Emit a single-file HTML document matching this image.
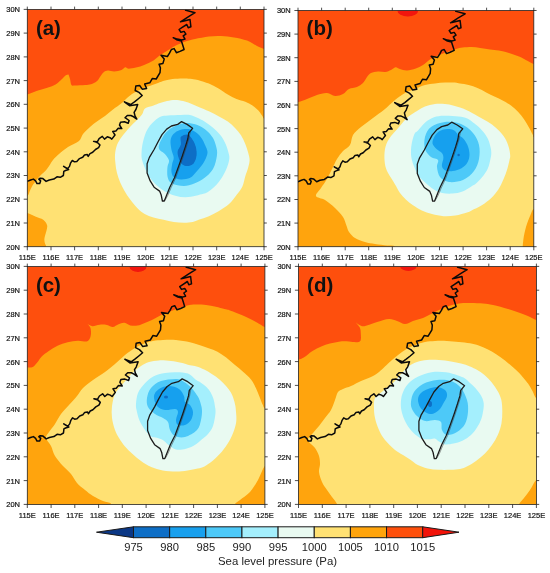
<!DOCTYPE html>
<html lang="en"><head><meta charset="utf-8"><title>Sea level pressure</title>
<style>html,body{margin:0;padding:0;background:#fff}svg{display:block}</style></head>
<body>
<svg width="550" height="573" viewBox="0 0 550 573">
<defs>
<clipPath id="cpa"><rect x="27.3" y="9.4" width="236.7" height="237.3"/></clipPath>
<clipPath id="cpb"><rect x="298.0" y="10.5" width="235.8" height="236.2"/></clipPath>
<clipPath id="cpc"><rect x="27.3" y="266.4" width="237.6" height="238.0"/></clipPath>
<clipPath id="cpd"><rect x="298.5" y="266.4" width="237.9" height="238.0"/></clipPath>
<filter id="bl" x="-5%" y="-5%" width="110%" height="110%"><feGaussianBlur stdDeviation="0.45"/></filter>
</defs>
<rect width="550" height="573" fill="#fff"/>
<g clip-path="url(#cpa)">
<g filter="url(#bl)">
<rect x="24.3" y="6.4" width="242.7" height="243.3" fill="#fe500c"/>
<path d="M21.3 94.4C22.3 94.4 24.6 95.0 27.3 94.4C30.0 93.8 33.9 91.8 37.2 90.7C40.6 89.6 44.3 88.9 47.4 87.8C50.5 86.7 53.6 85.7 56.0 84.2C58.4 82.7 60.4 80.5 62.0 79.0C63.6 77.5 64.4 76.2 65.5 75.5C66.6 74.8 68.5 74.5 68.5 74.5C68.5 74.5 69.5 77.2 70.0 79.0C70.5 80.8 70.6 83.9 71.4 85.0C72.2 86.1 72.7 85.6 75.0 85.6C77.3 85.6 82.5 85.2 85.2 85.0C87.9 84.8 89.1 84.8 91.0 84.2C92.9 83.6 95.2 82.6 96.8 81.3C98.4 80.0 99.3 77.8 100.5 76.2C101.7 74.7 102.8 72.9 104.0 72.0C105.2 71.1 106.3 70.7 108.0 70.6C109.7 70.5 112.0 71.6 114.3 71.5C116.5 71.4 119.7 70.7 121.5 70.0C123.3 69.3 124.0 67.5 125.2 67.3C126.4 67.1 127.0 68.8 128.8 68.8C130.6 68.8 133.3 68.3 136.0 67.6C138.7 66.9 141.9 65.9 144.8 64.7C147.7 63.5 150.8 62.0 153.5 60.4C156.2 58.8 158.4 56.5 160.8 54.8C163.2 53.1 165.3 51.8 168.0 50.2C170.7 48.6 173.6 46.5 176.8 45.0C180.0 43.5 184.0 42.0 187.0 41.0C190.0 40.0 191.3 39.8 195.0 39.0C198.7 38.2 204.7 37.0 209.0 36.5C213.3 36.0 216.8 35.8 221.0 36.0C225.2 36.2 229.7 36.7 234.0 37.5C238.3 38.3 243.2 39.2 247.0 40.6C250.8 42.0 254.1 44.6 257.0 46.0C259.9 47.4 262.2 48.5 264.5 49.0C266.8 49.5 269.5 49.0 270.5 49.0L270.0 252.7 L21.3 252.7 Z" fill="#ffa40c"/>
<path d="M27.3 196.0C28.9 195.2 29.0 192.7 29.8 191.0C30.6 189.3 31.3 187.5 32.2 186.0C33.1 184.5 33.7 183.7 35.0 182.0C36.3 180.3 38.0 178.2 40.0 176.0C42.0 173.8 44.8 171.7 47.0 169.0C49.2 166.3 51.0 162.5 53.0 160.0C55.0 157.5 56.5 156.2 59.0 154.0C61.5 151.8 64.7 149.2 68.0 147.0C71.3 144.8 76.5 143.2 79.0 141.0C81.5 138.8 81.2 136.3 83.0 134.0C84.8 131.7 87.6 129.2 90.0 127.0C92.4 124.8 95.1 122.8 97.6 121.0C100.1 119.2 102.4 117.9 105.0 116.0C107.6 114.1 110.2 111.7 113.0 109.5C115.8 107.3 119.5 104.9 121.8 103.0C124.1 101.1 125.3 99.5 127.0 98.0C128.7 96.5 130.1 95.2 132.0 94.0C133.9 92.8 136.2 91.6 138.4 90.5C140.6 89.4 142.9 88.3 145.0 87.5C147.1 86.7 148.8 86.2 151.0 85.5C153.2 84.8 155.7 83.8 158.0 83.0C160.3 82.2 162.2 81.2 165.0 80.5C167.8 79.8 171.7 79.1 175.0 78.8C178.3 78.5 182.2 78.5 185.0 78.5C187.8 78.5 189.7 78.7 192.0 79.0C194.3 79.3 195.9 79.4 198.7 80.2C201.5 81.0 205.5 82.2 208.9 83.6C212.3 85.0 215.8 86.9 219.0 88.7C222.2 90.5 224.9 92.8 227.8 94.5C230.7 96.2 233.6 97.8 236.5 99.0C239.4 100.2 242.6 100.7 245.3 101.8C248.0 102.9 250.3 104.0 252.5 105.5C254.7 107.0 256.7 108.7 258.4 110.5C260.1 112.3 261.8 115.1 262.7 116.4C263.6 117.7 262.8 118.2 264.0 118.5C265.2 118.8 269.0 96.6 270.0 118.5C271.0 140.4 307.3 228.1 270.0 250.0C232.7 271.9 83.6 250.6 46.3 250.0C9.0 249.4 46.5 247.7 46.3 246.6C46.1 245.5 45.3 244.9 45.0 243.6C44.7 242.3 44.2 240.8 44.4 238.7C44.6 236.6 45.8 233.6 46.3 231.3C46.8 229.1 47.6 227.1 47.1 225.2C46.6 223.3 45.1 221.1 43.2 219.7C41.3 218.3 38.5 217.8 35.9 216.7C33.2 215.6 29.9 213.6 27.3 213.0C24.7 212.4 21.2 215.8 20.0 213.0C18.8 210.2 18.8 198.8 20.0 196.0C21.2 193.2 25.7 196.8 27.3 196.0Z" fill="#ffe173"/>
<path d="M145.0 108.5C146.9 107.0 151.1 106.4 153.6 105.5C156.1 104.6 157.8 103.8 160.0 103.0C162.2 102.2 164.5 101.5 167.0 101.0C169.5 100.5 172.3 100.0 175.0 100.0C177.7 100.0 180.5 100.5 183.0 101.0C185.5 101.5 187.4 102.3 190.0 103.3C192.6 104.3 195.5 105.7 198.7 107.0C201.8 108.3 205.5 109.7 208.9 111.3C212.3 112.9 215.8 114.7 219.0 116.4C222.2 118.1 225.1 119.6 227.8 121.5C230.5 123.4 232.8 125.7 235.0 128.0C237.2 130.3 239.3 132.6 241.0 135.3C242.7 138.0 244.1 141.1 245.3 144.0C246.5 146.9 247.5 150.0 248.2 152.7C248.9 155.4 249.6 157.5 249.6 160.0C249.6 162.5 248.9 164.8 248.2 167.5C247.5 170.2 246.3 173.0 245.3 176.2C244.3 179.3 243.9 183.3 242.4 186.4C240.9 189.5 238.7 192.1 236.5 195.0C234.3 197.9 232.2 201.1 229.3 203.8C226.4 206.5 222.4 208.9 219.0 211.0C215.6 213.1 212.3 214.7 208.9 216.2C205.5 217.7 201.4 218.8 198.7 219.8C196.0 220.8 195.1 221.5 192.7 222.0C190.2 222.5 187.2 222.7 184.0 222.7C180.8 222.7 177.2 222.5 173.8 222.0C170.4 221.5 167.0 220.5 163.6 219.8C160.2 219.1 156.7 218.6 153.5 217.6C150.3 216.6 147.4 215.6 144.7 214.0C142.0 212.4 139.9 210.6 137.5 208.2C135.1 205.8 132.4 202.4 130.2 199.5C128.0 196.6 126.1 193.6 124.4 190.7C122.7 187.8 121.2 184.9 120.0 182.0C118.8 179.1 117.8 176.0 117.0 173.0C116.2 170.0 115.8 167.0 115.5 164.0C115.2 161.0 114.8 158.2 115.0 155.0C115.2 151.8 115.8 148.1 117.0 145.0C118.2 141.9 119.9 139.4 122.0 136.5C124.1 133.6 127.2 130.1 129.5 127.5C131.8 124.9 133.9 123.2 136.0 121.0C138.1 118.8 140.5 116.6 142.0 114.5C143.5 112.4 143.1 110.0 145.0 108.5Z" fill="#e9faf1"/>
<path d="M141.6 152.0C141.7 149.9 141.8 148.3 142.2 146.0C142.6 143.7 143.3 140.4 144.0 138.0C144.7 135.6 145.3 133.6 146.3 131.5C147.3 129.4 148.6 127.3 150.0 125.5C151.4 123.7 153.2 122.0 155.0 120.5C156.8 119.0 158.8 117.3 161.0 116.5C163.2 115.7 164.7 115.8 168.0 115.5C171.3 115.2 177.3 115.1 181.0 115.0C184.7 114.9 187.3 114.5 190.0 115.0C192.7 115.5 194.9 116.7 197.3 117.8C199.7 118.9 201.8 119.8 204.5 121.5C207.2 123.2 210.6 125.7 213.3 128.0C216.0 130.3 218.4 132.6 220.5 135.3C222.6 138.0 224.3 141.1 225.6 144.0C226.9 146.9 227.9 150.2 228.5 152.7C229.1 155.1 229.6 156.2 229.3 158.7C229.1 161.2 228.1 164.6 227.0 167.5C225.9 170.4 224.5 173.3 222.7 176.2C220.9 179.1 218.7 182.3 216.2 185.0C213.7 187.7 210.2 190.6 207.5 192.2C204.8 193.8 202.0 194.0 200.0 194.6C198.0 195.2 198.0 195.4 195.6 195.8C193.2 196.2 188.9 197.3 185.5 197.3C182.1 197.3 178.7 196.8 175.3 195.8C171.9 194.8 168.2 193.3 165.0 191.5C161.8 189.7 159.1 187.6 156.4 185.0C153.7 182.4 150.9 179.1 149.0 176.2C147.1 173.3 145.9 170.4 144.7 167.5C143.5 164.6 142.3 161.3 141.8 158.7C141.3 156.1 141.5 154.1 141.6 152.0Z" fill="#a4effd"/>
<path d="M158.8 148.0C158.4 145.1 161.0 140.2 162.8 137.0C164.6 133.8 167.1 131.2 169.8 129.1C172.5 127.0 175.8 125.4 179.2 124.4C182.6 123.4 186.8 122.9 190.2 123.2C193.6 123.5 196.8 124.7 199.6 126.0C202.4 127.3 204.8 129.0 207.0 131.0C209.2 133.0 211.5 135.5 213.0 138.0C214.5 140.5 215.3 143.2 216.0 146.0C216.7 148.8 217.5 151.2 217.0 155.0C216.5 158.8 215.3 165.0 213.0 169.0C210.7 173.0 207.0 176.3 203.0 179.0C199.0 181.7 193.2 184.2 189.0 185.3C184.8 186.4 180.8 185.8 177.7 185.3C174.6 184.8 172.3 184.0 170.6 182.5C168.9 181.0 168.0 179.0 167.5 176.4C167.0 173.8 167.2 169.5 167.5 166.8C167.8 164.2 169.4 162.6 169.0 160.5C168.6 158.4 166.8 156.3 165.1 154.2C163.4 152.1 159.2 150.9 158.8 148.0Z" fill="#4dc9f8"/>
<path d="M170.6 140.1C171.0 137.5 172.1 135.5 173.7 133.8C175.3 132.1 177.5 130.7 180.0 129.9C182.5 129.1 185.9 128.6 188.7 129.1C191.4 129.6 194.3 131.3 196.5 132.8C198.7 134.3 200.1 136.1 201.6 138.2C203.1 140.3 204.3 143.2 205.3 145.5C206.3 147.8 207.4 149.9 207.5 152.0C207.6 154.1 206.8 155.9 206.0 158.0C205.2 160.1 203.8 162.4 202.4 164.5C201.0 166.6 199.3 168.6 197.3 170.8C195.3 173.0 192.9 176.4 190.2 177.8C187.4 179.2 183.6 179.5 180.8 179.4C178.1 179.3 175.3 178.3 173.7 177.0C172.1 175.7 171.7 173.7 171.4 171.5C171.2 169.3 171.8 166.0 172.2 163.7C172.6 161.3 173.8 159.8 173.7 157.4C173.6 155.0 171.9 152.4 171.4 149.5C170.9 146.6 170.2 142.7 170.6 140.1Z" fill="#18a0ee"/>
<path d="M181.6 136.2C182.7 135.5 185.4 134.2 187.1 134.6C188.8 135.0 190.4 136.5 191.8 138.5C193.2 140.5 194.9 143.5 195.7 146.4C196.5 149.3 196.9 152.9 196.5 155.8C196.1 158.7 195.0 162.0 193.4 163.7C191.8 165.4 189.1 166.0 187.1 166.0C185.1 166.0 183.0 165.1 181.6 163.7C180.2 162.3 179.2 159.5 178.5 157.4C177.8 155.3 177.3 153.2 177.7 151.1C178.1 149.0 180.3 146.9 180.8 144.8C181.3 142.7 180.4 139.9 180.5 138.5C180.6 137.1 180.5 136.8 181.6 136.2Z" fill="#0d6ec6"/>
</g>
<g fill="none" stroke-linejoin="round">
<path d="M185.0 10.0L195.0 12.7L188.2 16.8L180.5 21.8L181.8 21.4L190.0 19.5L190.9 26.8L188.2 27.7L186.8 24.5L181.8 27.7L179.1 29.5L180.9 32.3L184.1 31.4L185.9 34.1L183.2 35.9L185.0 39.1L181.8 40.0L177.3 39.1L173.2 37.7L177.3 40.0L181.4 40.9L182.7 45.0L184.1 49.5L180.0 51.4L176.4 52.7L174.1 48.6L171.4 49.5L169.5 53.2L167.4 56.5L161.0 55.3L164.2 59.1L162.9 63.5L159.1 64.2L160.4 68.0L160.0 72.6L156.2 79.0L152.4 78.4L149.8 82.8L144.7 84.1L146.6 88.5L142.2 89.2L139.6 85.4L135.8 86.0L135.2 90.5L139.0 92.4L142.2 95.5L138.4 98.7L134.5 101.9L130.7 104.5L124.4 101.9L129.5 105.7L137.7 104.5L135.9 109.5L134.1 112.3L135.0 115.9L136.8 119.1L133.6 116.8L130.9 115.5L127.3 115.5L125.0 117.7L129.1 120.5L128.2 123.2L124.5 121.8L120.5 122.3L119.5 125.0L121.8 128.6L118.2 128.2L115.9 130.9L112.7 131.4L115.0 135.0L111.8 139.1L110.0 137.7L107.3 136.8L104.5 139.1L102.3 136.4L99.1 138.6L97.3 141.8L93.6 141.4L97.7 142.7L100.0 145.0L98.6 147.7L95.5 149.5L92.7 152.3L90.0 153.6L88.2 156.4L87.3 154.5L84.5 155.0L82.7 157.3L79.5 158.6L76.8 161.4L74.5 161.8L72.3 160.5L70.5 163.2L69.5 166.4L67.7 168.6L63.6 166.4L68.6 169.5L65.5 170.5L63.8 171.4L63.4 175.5L60.2 177.3L57.0 176.8L53.8 179.1L49.3 180.0L46.1 181.4L42.9 178.6L40.2 178.2L38.8 179.1L40.6 180.9L39.7 183.6L37.0 183.6L35.6 180.9L33.4 179.1L30.6 180.0L27.3 181.4" stroke="#0a0a0a" stroke-width="1.5"/>
<path d="M181.6 121.6L187.1 124.4L192.6 128.3L188.7 133.0L187.9 138.5L185.5 146.4L182.4 155.8L178.5 166.8L174.5 177.8L169.8 187.2L166.7 195.0L164.3 201.0L162.4 201.0L161.2 195.0L159.6 191.1L154.1 187.2L150.2 180.9L147.1 173.1L147.1 163.7L149.4 157.4L154.1 149.5L158.1 141.7L162.0 134.6L166.7 129.1L171.4 126.0L177.7 124.4Z" stroke="#1c1c1c" stroke-width="1.3"/>
<path d="M190.5 130.5L188.9 138.8L186.4 147.0L183.3 156.4L179.5 167.2L175.6 178.2L171.0 187.8L167.8 195.4L165.0 200.5" stroke="#333" stroke-width="0.6" opacity="0.8"/>
</g>
</g>
<rect x="27.3" y="9.4" width="236.7" height="237.3" fill="none" stroke="#222" stroke-width="0.8"/>
<path d="M27.3 9.4v-2.8M27.3 246.7v3.6M27.3 9.4h-3.6M264.0 9.4h2.8M51.0 9.4v-2.8M51.0 246.7v3.6M27.3 33.1h-3.6M264.0 33.1h2.8M74.6 9.4v-2.8M74.6 246.7v3.6M27.3 56.9h-3.6M264.0 56.9h2.8M98.3 9.4v-2.8M98.3 246.7v3.6M27.3 80.6h-3.6M264.0 80.6h2.8M122.0 9.4v-2.8M122.0 246.7v3.6M27.3 104.3h-3.6M264.0 104.3h2.8M145.7 9.4v-2.8M145.7 246.7v3.6M27.3 128.1h-3.6M264.0 128.1h2.8M169.3 9.4v-2.8M169.3 246.7v3.6M27.3 151.8h-3.6M264.0 151.8h2.8M193.0 9.4v-2.8M193.0 246.7v3.6M27.3 175.5h-3.6M264.0 175.5h2.8M216.7 9.4v-2.8M216.7 246.7v3.6M27.3 199.2h-3.6M264.0 199.2h2.8M240.3 9.4v-2.8M240.3 246.7v3.6M27.3 223.0h-3.6M264.0 223.0h2.8M264.0 9.4v-2.8M264.0 246.7v3.6M27.3 246.7h-3.6M264.0 246.7h2.8" stroke="#222" stroke-width="0.8" fill="none"/>
<g font-family="'Liberation Sans', Arial, sans-serif" font-size="7.5" fill="#151515" stroke="#151515" stroke-width="0.2">
<text x="20.0" y="12.3" text-anchor="end">30N</text>
<text x="27.3" y="259.8" text-anchor="middle">115E</text>
<text x="20.0" y="36.0" text-anchor="end">29N</text>
<text x="51.0" y="259.8" text-anchor="middle">116E</text>
<text x="20.0" y="59.8" text-anchor="end">28N</text>
<text x="74.6" y="259.8" text-anchor="middle">117E</text>
<text x="20.0" y="83.5" text-anchor="end">27N</text>
<text x="98.3" y="259.8" text-anchor="middle">118E</text>
<text x="20.0" y="107.2" text-anchor="end">26N</text>
<text x="122.0" y="259.8" text-anchor="middle">119E</text>
<text x="20.0" y="131.0" text-anchor="end">25N</text>
<text x="145.7" y="259.8" text-anchor="middle">120E</text>
<text x="20.0" y="154.7" text-anchor="end">24N</text>
<text x="169.3" y="259.8" text-anchor="middle">121E</text>
<text x="20.0" y="178.4" text-anchor="end">23N</text>
<text x="193.0" y="259.8" text-anchor="middle">122E</text>
<text x="20.0" y="202.1" text-anchor="end">22N</text>
<text x="216.7" y="259.8" text-anchor="middle">123E</text>
<text x="20.0" y="225.9" text-anchor="end">21N</text>
<text x="240.3" y="259.8" text-anchor="middle">124E</text>
<text x="20.0" y="249.6" text-anchor="end">20N</text>
<text x="264.0" y="259.8" text-anchor="middle">125E</text>
</g>
<text x="35.9" y="34.8" font-family="'Liberation Sans', Arial, sans-serif" font-weight="bold" font-size="20.5" fill="#111">(a)</text>
<g clip-path="url(#cpb)">
<g filter="url(#bl)">
<rect x="295.0" y="7.5" width="241.8" height="242.2" fill="#fe500c"/>
<ellipse cx="407.8" cy="10.5" rx="10.4" ry="6.0" fill="#f21309"/>
<path d="M292.5 102.0C293.5 102.0 296.1 102.5 298.5 102.0C300.9 101.5 303.9 100.2 307.0 99.0C310.1 97.8 313.7 96.0 317.0 95.0C320.3 94.0 324.0 92.8 327.0 93.0C330.0 93.2 332.3 95.8 335.0 96.0C337.7 96.2 340.7 95.2 343.0 94.0C345.3 92.8 346.7 90.2 349.0 89.0C351.3 87.8 354.7 88.0 357.0 87.0C359.3 86.0 361.3 84.7 363.0 83.0C364.7 81.3 365.7 78.7 367.0 77.0C368.3 75.3 369.2 73.9 371.0 73.0C372.8 72.1 375.6 71.7 378.0 71.5C380.4 71.3 383.1 72.2 385.3 72.0C387.5 71.8 389.3 70.8 391.0 70.0C392.7 69.2 394.0 67.5 395.5 67.3C397.0 67.1 397.9 68.5 399.8 69.0C401.7 69.5 404.3 70.6 407.0 70.5C409.7 70.4 413.1 69.5 415.8 68.6C418.5 67.7 420.6 66.5 423.0 65.0C425.4 63.5 427.8 61.0 430.0 59.5C432.2 58.0 434.3 57.0 436.5 56.0C438.7 55.0 440.8 54.2 443.0 53.4C445.2 52.6 447.4 51.9 449.6 51.2C451.8 50.5 454.0 49.6 456.2 49.0C458.4 48.4 460.1 47.9 462.7 47.6C465.2 47.3 468.6 47.1 471.5 47.1C474.4 47.1 477.1 47.5 480.2 47.9C483.3 48.3 486.9 49.0 490.0 49.5C493.1 50.0 495.5 50.0 498.7 50.6C501.9 51.2 505.6 52.0 509.0 53.0C512.4 54.0 515.9 55.2 519.0 56.5C522.1 57.8 525.3 59.8 527.8 61.0C530.3 62.2 531.8 63.5 533.8 64.0C535.8 64.5 538.8 64.0 539.8 64.0L539.8 252.7 L292.0 252.7 Z" fill="#ffa40c"/>
<path d="M316.0 196.0C315.3 194.0 319.2 190.8 321.0 188.0C322.8 185.2 325.2 182.2 327.0 179.0C328.8 175.8 330.3 172.3 332.0 169.0C333.7 165.7 335.2 162.0 337.0 159.0C338.8 156.0 340.8 153.3 343.0 151.0C345.2 148.7 348.3 147.7 350.0 145.0C351.7 142.3 351.2 138.0 353.0 135.0C354.8 132.0 358.3 129.3 361.0 127.0C363.7 124.7 366.3 123.0 369.0 121.0C371.7 119.0 374.3 117.0 377.0 115.0C379.7 113.0 382.0 111.5 385.0 109.0C388.0 106.5 391.7 102.7 395.0 100.0C398.3 97.3 401.7 94.8 405.0 93.0C408.3 91.2 411.7 90.3 415.0 89.0C418.3 87.7 421.7 85.9 425.0 85.0C428.3 84.1 431.7 83.8 435.0 83.4C438.3 83.0 441.7 82.7 445.0 82.6C448.3 82.5 452.5 82.4 455.0 82.6C457.5 82.8 457.7 83.2 460.0 83.6C462.3 84.0 465.8 84.3 468.7 85.0C471.6 85.7 474.6 86.8 477.5 88.0C480.4 89.2 483.3 91.0 486.2 92.4C489.1 93.9 492.1 95.3 495.0 96.7C497.9 98.1 500.9 99.5 503.6 101.0C506.3 102.5 508.6 103.7 511.0 105.5C513.4 107.3 516.0 109.7 518.2 112.0C520.4 114.3 522.3 116.9 524.0 119.3C525.7 121.7 526.9 124.0 528.4 126.5C529.9 129.0 531.8 132.8 532.7 134.5C533.6 136.2 532.4 136.6 533.8 137.0C535.2 137.4 539.8 125.0 541.0 137.0C542.2 149.0 542.2 197.0 541.0 209.0C539.8 221.0 535.5 208.2 533.8 209.0C532.1 209.8 531.8 212.1 530.9 214.0C530.0 215.9 529.0 218.3 528.2 220.5C527.4 222.7 526.6 224.8 526.0 227.0C525.4 229.2 524.9 231.4 524.4 233.6C523.9 235.8 523.6 238.1 523.3 240.2C523.0 242.3 522.8 244.6 522.7 246.4C522.6 248.2 543.7 250.2 522.7 251.0C501.8 251.8 418.3 251.8 397.0 251.0C375.7 250.2 396.7 247.3 395.0 246.4C393.3 245.5 390.3 246.0 387.0 245.6C383.7 245.2 378.7 244.6 375.0 244.0C371.3 243.4 368.3 243.0 365.0 242.0C361.7 241.0 357.7 239.7 355.0 238.0C352.3 236.3 350.4 234.0 349.0 232.0C347.6 230.0 347.6 228.5 346.6 226.0C345.6 223.5 344.9 220.0 343.0 217.0C341.1 214.0 338.0 210.8 335.0 208.0C332.0 205.2 328.2 202.0 325.0 200.0C321.8 198.0 316.7 198.0 316.0 196.0Z" fill="#ffe173"/>
<path d="M417.0 111.0C419.8 109.2 422.0 107.7 425.0 106.5C428.0 105.3 431.7 104.4 435.0 104.0C438.3 103.6 442.0 103.8 445.0 104.0C448.0 104.2 450.5 104.9 453.0 105.5C455.5 106.1 457.6 106.8 460.0 107.6C462.4 108.4 464.9 109.4 467.3 110.5C469.7 111.6 471.8 112.7 474.5 114.2C477.2 115.7 480.4 117.6 483.3 119.3C486.2 121.0 489.3 122.5 492.0 124.4C494.7 126.4 497.1 128.7 499.3 131.0C501.5 133.3 503.4 135.5 505.0 138.2C506.6 140.9 507.8 144.1 508.7 147.0C509.6 149.9 510.1 153.4 510.2 155.6C510.3 157.8 510.0 157.8 509.5 160.0C509.0 162.2 508.3 165.8 507.3 169.0C506.3 172.2 505.1 175.6 503.6 179.0C502.1 182.4 500.6 186.1 498.5 189.3C496.4 192.5 494.1 195.3 491.3 198.0C488.5 200.7 485.1 203.2 481.8 205.3C478.5 207.4 474.1 209.2 471.6 210.4C469.1 211.6 469.7 211.7 467.0 212.5C464.3 213.3 459.2 214.9 455.3 215.5C451.4 216.1 447.5 216.4 443.6 216.2C439.7 215.9 435.6 215.0 432.0 214.0C428.4 213.0 425.0 211.8 421.8 210.4C418.6 209.0 415.7 207.1 413.0 205.3C410.3 203.5 408.0 201.6 405.8 199.5C403.6 197.4 401.6 195.2 400.0 193.0C398.4 190.8 397.2 188.0 396.0 186.0C394.8 184.0 394.5 183.5 393.0 181.0C391.5 178.5 388.4 174.3 387.0 171.0C385.6 167.7 384.9 164.7 384.6 161.0C384.3 157.3 384.3 152.7 385.0 149.0C385.7 145.3 386.7 142.7 389.0 139.0C391.3 135.3 395.8 130.7 399.0 127.0C402.2 123.3 405.0 119.7 408.0 117.0C411.0 114.3 414.2 112.8 417.0 111.0Z" fill="#e9faf1"/>
<path d="M411.0 150.0C411.1 146.9 411.8 142.8 412.5 140.0C413.2 137.2 414.1 134.6 415.0 133.0C415.9 131.4 416.3 132.2 418.0 130.4C419.7 128.6 422.5 124.6 425.2 122.4C427.9 120.2 430.9 118.4 434.0 117.3C437.1 116.2 439.9 115.9 444.0 115.8C448.1 115.7 454.7 116.0 458.6 116.5C462.5 117.0 464.7 117.3 467.3 118.5C469.9 119.7 472.1 121.6 474.5 123.6C476.9 125.5 479.6 127.8 481.8 130.2C484.0 132.6 486.2 135.4 487.6 138.2C489.1 141.0 489.9 144.5 490.5 147.0C491.1 149.5 491.3 151.1 491.3 153.0C491.3 154.9 491.1 156.0 490.5 158.7C489.9 161.4 489.1 165.8 487.6 169.0C486.2 172.2 483.7 175.2 481.8 177.6C479.9 180.0 477.8 182.0 476.0 183.5C474.2 185.0 473.6 185.1 471.3 186.4C469.1 187.7 465.6 190.3 462.5 191.5C459.4 192.7 455.8 193.3 452.4 193.6C449.0 193.8 445.3 193.7 442.2 193.0C439.1 192.3 436.2 190.9 433.5 189.3C430.8 187.7 428.6 185.7 426.2 183.5C423.8 181.3 420.9 178.9 419.0 176.2C417.1 173.5 415.7 170.4 414.5 167.5C413.3 164.6 412.2 161.6 411.6 158.7C411.0 155.8 410.9 153.1 411.0 150.0Z" fill="#a4effd"/>
<path d="M425.0 137.0C426.0 133.3 427.7 129.5 431.0 127.0C434.3 124.5 440.0 122.5 445.0 122.0C450.0 121.5 456.3 122.2 461.0 124.0C465.7 125.8 470.0 129.5 473.0 133.0C476.0 136.5 478.0 140.7 479.0 145.0C480.0 149.3 479.8 154.7 479.0 159.0C478.2 163.3 476.7 167.5 474.0 171.0C471.3 174.5 467.2 178.2 463.0 180.0C458.8 181.8 452.8 182.5 449.0 182.0C445.2 181.5 442.0 179.5 440.0 177.0C438.0 174.5 437.3 169.8 437.0 167.0C436.7 164.2 439.0 161.7 438.0 160.0C437.0 158.3 433.2 158.8 431.0 157.0C428.8 155.2 426.0 152.3 425.0 149.0C424.0 145.7 424.0 140.7 425.0 137.0Z" fill="#4dc9f8"/>
<path d="M432.5 143.5C432.1 141.3 433.4 138.3 434.6 136.2C435.8 134.1 437.6 132.2 439.7 131.0C441.8 129.8 444.6 129.1 447.0 129.0C449.4 128.9 452.4 129.4 454.3 130.4C456.2 131.4 457.0 133.6 458.6 135.0C460.2 136.4 462.1 137.1 463.7 139.0C465.3 140.9 467.0 143.7 468.0 146.4C469.0 149.1 469.6 152.3 469.5 155.0C469.4 157.7 468.7 160.2 467.4 162.4C466.1 164.6 463.9 166.8 461.5 168.2C459.1 169.6 455.5 170.6 452.8 171.0C450.1 171.4 447.3 171.2 445.5 170.4C443.7 169.6 442.2 168.1 441.9 166.0C441.5 163.9 443.4 160.2 443.4 158.0C443.4 155.8 443.0 154.4 441.9 153.0C440.8 151.6 438.4 150.9 436.8 149.3C435.2 147.7 432.9 145.7 432.5 143.5Z" fill="#18a0ee"/>
<ellipse cx="458.6" cy="155.0" rx="1.2" ry="1.2" fill="#0d6ec6"/>
</g>
<g fill="none" stroke-linejoin="round">
<path d="M455.1 11.1L465.1 13.8L458.3 17.9L450.6 22.8L451.9 22.4L460.1 20.6L461.0 27.8L458.3 28.7L456.9 25.5L451.9 28.7L449.2 30.5L451.0 33.3L454.2 32.4L456.0 35.1L453.3 36.9L455.1 40.1L451.9 41.0L447.4 40.1L443.3 38.7L447.4 41.0L451.5 41.9L452.8 45.9L454.2 50.4L450.1 52.3L446.5 53.6L444.2 49.5L441.6 50.4L439.7 54.1L437.6 57.4L431.2 56.2L434.4 60.0L433.1 64.3L429.3 65.0L430.6 68.8L430.2 73.4L426.4 79.8L422.6 79.2L420.0 83.6L415.0 84.9L416.8 89.2L412.5 89.9L409.9 86.1L406.1 86.7L405.5 91.2L409.3 93.1L412.5 96.2L408.7 99.4L404.8 102.6L401.0 105.2L394.7 102.6L399.8 106.4L408.0 105.2L406.2 110.1L404.4 112.9L405.3 116.5L407.1 119.7L403.9 117.4L401.2 116.1L397.6 116.1L395.3 118.3L399.4 121.1L398.5 123.8L394.8 122.4L390.8 122.9L389.8 125.6L392.1 129.1L388.6 128.7L386.3 131.4L383.1 131.9L385.4 135.5L382.2 139.6L380.4 138.2L377.7 137.3L374.9 139.6L372.7 136.9L369.5 139.1L367.7 142.3L364.0 141.9L368.1 143.2L370.4 145.5L369.0 148.2L365.9 150.0L363.2 152.7L360.5 154.0L358.7 156.8L357.8 154.9L355.0 155.4L353.2 157.7L350.0 159.0L347.3 161.8L345.0 162.2L342.8 160.9L341.0 163.6L340.0 166.8L338.2 169.0L334.2 166.8L339.1 169.9L336.1 170.9L334.4 171.7L334.0 175.8L330.8 177.6L327.6 177.1L324.4 179.4L319.9 180.3L316.7 181.7L313.5 178.9L310.9 178.5L309.5 179.4L311.2 181.2L310.4 183.9L307.7 183.9L306.3 181.2L304.1 179.4L301.3 180.3L298.0 181.7" stroke="#0a0a0a" stroke-width="1.5"/>
<path d="M451.7 122.2L457.2 125.0L462.7 128.8L458.8 133.5L458.0 139.0L455.6 146.9L452.5 156.2L448.6 167.2L444.6 178.1L440.0 187.5L436.9 195.2L434.5 201.2L432.6 201.2L431.4 195.2L429.8 191.4L424.3 187.5L420.4 181.2L417.3 173.4L417.3 164.1L419.6 157.8L424.3 150.0L428.3 142.2L432.2 135.1L436.9 129.6L441.6 126.6L447.8 125.0Z" stroke="#1c1c1c" stroke-width="1.3"/>
<path d="M460.6 131.0L459.0 139.3L456.5 147.5L453.4 156.8L449.6 167.6L445.7 178.5L441.2 188.1L438.0 195.6L435.2 200.7" stroke="#333" stroke-width="0.6" opacity="0.8"/>
</g>
</g>
<rect x="298.0" y="10.5" width="235.8" height="236.2" fill="none" stroke="#222" stroke-width="0.8"/>
<path d="M298.0 10.5v-2.8M298.0 246.7v3.6M298.0 10.5h-3.6M533.8 10.5h2.8M321.6 10.5v-2.8M321.6 246.7v3.6M298.0 34.1h-3.6M533.8 34.1h2.8M345.2 10.5v-2.8M345.2 246.7v3.6M298.0 57.7h-3.6M533.8 57.7h2.8M368.7 10.5v-2.8M368.7 246.7v3.6M298.0 81.4h-3.6M533.8 81.4h2.8M392.3 10.5v-2.8M392.3 246.7v3.6M298.0 105.0h-3.6M533.8 105.0h2.8M415.9 10.5v-2.8M415.9 246.7v3.6M298.0 128.6h-3.6M533.8 128.6h2.8M439.5 10.5v-2.8M439.5 246.7v3.6M298.0 152.2h-3.6M533.8 152.2h2.8M463.1 10.5v-2.8M463.1 246.7v3.6M298.0 175.8h-3.6M533.8 175.8h2.8M486.6 10.5v-2.8M486.6 246.7v3.6M298.0 199.5h-3.6M533.8 199.5h2.8M510.2 10.5v-2.8M510.2 246.7v3.6M298.0 223.1h-3.6M533.8 223.1h2.8M533.8 10.5v-2.8M533.8 246.7v3.6M298.0 246.7h-3.6M533.8 246.7h2.8" stroke="#222" stroke-width="0.8" fill="none"/>
<g font-family="'Liberation Sans', Arial, sans-serif" font-size="7.5" fill="#151515" stroke="#151515" stroke-width="0.2">
<text x="290.7" y="13.4" text-anchor="end">30N</text>
<text x="298.0" y="259.8" text-anchor="middle">115E</text>
<text x="290.7" y="37.0" text-anchor="end">29N</text>
<text x="321.6" y="259.8" text-anchor="middle">116E</text>
<text x="290.7" y="60.6" text-anchor="end">28N</text>
<text x="345.2" y="259.8" text-anchor="middle">117E</text>
<text x="290.7" y="84.3" text-anchor="end">27N</text>
<text x="368.7" y="259.8" text-anchor="middle">118E</text>
<text x="290.7" y="107.9" text-anchor="end">26N</text>
<text x="392.3" y="259.8" text-anchor="middle">119E</text>
<text x="290.7" y="131.5" text-anchor="end">25N</text>
<text x="415.9" y="259.8" text-anchor="middle">120E</text>
<text x="290.7" y="155.1" text-anchor="end">24N</text>
<text x="439.5" y="259.8" text-anchor="middle">121E</text>
<text x="290.7" y="178.7" text-anchor="end">23N</text>
<text x="463.1" y="259.8" text-anchor="middle">122E</text>
<text x="290.7" y="202.4" text-anchor="end">22N</text>
<text x="486.6" y="259.8" text-anchor="middle">123E</text>
<text x="290.7" y="226.0" text-anchor="end">21N</text>
<text x="510.2" y="259.8" text-anchor="middle">124E</text>
<text x="290.7" y="249.6" text-anchor="end">20N</text>
<text x="533.8" y="259.8" text-anchor="middle">125E</text>
</g>
<text x="306.6" y="34.8" font-family="'Liberation Sans', Arial, sans-serif" font-weight="bold" font-size="20.5" fill="#111">(b)</text>
<g clip-path="url(#cpc)">
<g filter="url(#bl)">
<rect x="24.3" y="263.4" width="243.6" height="244.0" fill="#fe500c"/>
<ellipse cx="138.0" cy="266.4" rx="8.5" ry="5.5" fill="#f21309"/>
<path d="M21.3 367.6C22.3 367.6 25.4 367.7 27.3 367.6C29.2 367.5 31.1 367.9 32.8 367.0C34.4 366.1 35.8 364.2 37.2 362.5C38.7 360.8 39.6 358.6 41.5 356.7C43.4 354.8 46.1 352.8 48.8 351.0C51.5 349.2 54.4 347.3 57.5 345.8C60.6 344.3 64.3 343.1 67.7 342.2C71.1 341.3 74.8 340.8 78.0 340.7C81.2 340.6 84.6 341.9 86.6 341.5C88.6 341.1 89.1 339.8 89.8 338.5C90.5 337.2 90.9 335.3 91.0 333.5C91.1 331.7 90.9 329.2 90.3 327.6C89.7 326.0 87.4 323.8 87.4 323.8C87.4 323.8 90.5 326.1 92.5 326.2C94.5 326.3 97.3 324.9 99.7 324.7C102.1 324.5 104.8 324.6 107.0 325.0C109.2 325.4 110.9 327.1 112.8 327.0C114.7 326.9 116.6 324.9 118.6 324.2C120.5 323.5 122.5 322.5 124.5 322.7C126.5 322.9 128.1 324.9 130.3 325.4C132.5 325.9 135.1 326.0 137.5 325.6C139.9 325.2 142.4 323.9 144.8 323.0C147.2 322.1 149.6 321.2 152.0 320.0C154.4 318.8 157.1 317.2 159.4 316.0C161.7 314.8 164.2 313.7 166.0 313.0C167.8 312.3 168.2 312.3 170.0 311.6C171.8 310.9 174.3 309.8 176.5 309.0C178.7 308.2 180.8 307.4 183.0 306.7C185.2 306.0 187.2 305.4 189.6 305.0C192.0 304.6 194.6 304.5 197.3 304.5C200.0 304.5 202.9 304.6 206.0 305.0C209.1 305.4 212.7 306.0 215.8 306.7C218.9 307.4 222.1 308.4 224.5 309.0C226.9 309.6 226.8 309.3 230.0 310.5C233.2 311.7 239.7 314.1 244.0 316.0C248.3 317.9 252.5 320.2 256.0 322.0C259.5 323.8 262.4 326.2 264.9 327.0C267.4 327.8 269.9 327.0 270.9 327.0L270.9 510.4 L21.3 510.4 Z" fill="#ffa40c"/>
<path d="M46.0 438.0C45.7 435.7 47.5 434.3 49.0 432.0C50.5 429.7 53.0 427.0 55.0 424.0C57.0 421.0 58.7 417.2 61.0 414.0C63.3 410.8 66.3 408.0 69.0 405.0C71.7 402.0 74.7 398.8 77.0 396.0C79.3 393.2 80.3 390.7 83.0 388.0C85.7 385.3 89.3 382.7 93.0 380.0C96.7 377.3 101.3 374.7 105.0 372.0C108.7 369.3 111.7 366.8 115.0 364.0C118.3 361.2 121.7 357.7 125.0 355.0C128.3 352.3 132.0 349.8 135.0 348.0C138.0 346.2 140.0 345.2 143.0 344.0C146.0 342.8 149.7 341.7 153.0 341.0C156.3 340.3 159.2 340.2 163.0 340.0C166.8 339.8 171.5 339.6 176.0 340.0C180.5 340.4 186.0 341.4 190.0 342.3C194.0 343.2 196.9 344.3 200.0 345.3C203.1 346.3 205.8 347.1 208.7 348.2C211.6 349.3 214.6 350.2 217.5 351.8C220.4 353.4 223.3 355.4 226.2 357.6C229.1 359.8 232.1 362.6 235.0 365.0C237.9 367.4 240.9 369.8 243.6 372.2C246.3 374.6 248.9 376.8 251.0 379.5C253.1 382.2 254.6 385.3 256.0 388.2C257.4 391.1 258.5 394.3 259.6 397.0C260.7 399.7 261.6 402.3 262.5 404.2C263.4 406.1 263.5 407.8 264.9 408.5C266.3 409.2 270.0 398.9 271.0 408.5C272.0 418.1 272.0 456.4 271.0 466.0C270.0 475.6 267.1 463.7 264.9 466.0C262.7 468.3 260.5 475.7 258.0 480.0C255.5 484.3 253.0 488.7 250.0 492.0C247.0 495.3 242.5 498.0 240.0 500.0C237.5 502.0 235.8 502.7 235.0 504.0C234.2 505.3 255.7 507.3 235.0 508.0C214.3 508.7 131.7 508.7 111.0 508.0C90.3 507.3 112.3 504.8 111.0 503.6C109.7 502.4 106.0 502.3 103.0 501.0C100.0 499.7 96.0 497.8 93.0 496.0C90.0 494.2 87.7 492.2 85.0 490.0C82.3 487.8 79.3 485.7 77.0 483.0C74.7 480.3 73.3 476.8 71.0 474.0C68.7 471.2 65.7 469.0 63.0 466.0C60.3 463.0 57.0 459.3 55.0 456.0C53.0 452.7 52.5 449.0 51.0 446.0C49.5 443.0 46.3 440.3 46.0 438.0Z" fill="#ffe173"/>
<path d="M141.0 366.0C143.7 364.2 146.0 362.9 149.0 362.0C152.0 361.1 155.3 360.6 159.0 360.4C162.7 360.2 167.3 360.6 171.0 361.0C174.7 361.4 177.8 362.1 181.0 362.8C184.2 363.5 187.4 364.7 190.0 365.3C192.6 365.9 194.1 365.7 196.5 366.4C198.9 367.1 201.6 368.3 204.2 369.6C206.8 370.9 209.2 372.4 211.8 374.0C214.4 375.6 217.1 377.5 219.5 379.5C221.9 381.5 224.1 383.8 226.0 386.0C227.9 388.2 229.6 390.3 230.9 392.5C232.2 394.7 232.9 396.8 233.6 399.0C234.3 401.2 234.9 403.4 235.3 405.6C235.7 407.8 235.8 409.4 236.0 412.0C236.2 414.6 236.6 418.0 236.3 421.0C236.0 424.0 235.4 426.6 234.2 430.0C233.0 433.4 231.1 438.0 229.0 441.6C226.9 445.2 224.5 448.7 221.8 451.8C219.1 454.9 215.9 458.1 213.0 460.5C210.1 462.9 207.0 465.0 204.4 466.4C201.8 467.8 200.5 467.9 197.7 468.6C194.9 469.3 191.1 470.0 187.5 470.5C183.9 471.0 180.1 471.6 176.0 471.6C171.9 471.6 166.9 471.3 162.8 470.5C158.7 469.7 154.8 468.6 151.2 467.0C147.6 465.4 144.2 463.2 141.0 461.0C137.8 458.8 135.0 456.2 132.3 453.8C129.6 451.4 127.2 449.1 125.0 446.5C122.8 443.9 120.7 440.8 119.0 438.0C117.3 435.2 116.2 433.3 115.0 430.0C113.8 426.7 112.5 422.0 112.0 418.0C111.5 414.0 111.5 410.0 112.0 406.0C112.5 402.0 113.5 397.3 115.0 394.0C116.5 390.7 119.0 388.5 121.0 386.0C123.0 383.5 125.0 381.2 127.0 379.0C129.0 376.8 130.7 374.7 133.0 372.5C135.3 370.3 138.3 367.8 141.0 366.0Z" fill="#e9faf1"/>
<path d="M136.0 404.0C136.2 401.1 136.6 396.4 138.0 393.0C139.4 389.6 141.9 386.6 144.5 383.8C147.1 381.1 149.9 378.3 153.3 376.5C156.7 374.7 161.1 373.7 165.0 373.0C168.9 372.3 172.7 372.1 176.5 372.2C180.3 372.3 184.8 372.4 188.0 373.6C191.2 374.8 193.3 378.0 195.5 379.5C197.7 381.0 199.1 381.4 200.9 382.7C202.7 383.9 204.8 385.4 206.4 387.0C208.0 388.6 209.5 390.5 210.7 392.5C211.9 394.5 212.8 396.8 213.5 399.0C214.2 401.2 214.5 403.3 214.8 405.6C215.1 407.9 215.8 409.6 215.5 413.0C215.2 416.4 214.2 422.5 213.0 426.0C211.8 429.5 209.8 431.8 208.0 434.0C206.2 436.2 204.2 437.5 202.0 439.3C199.8 441.1 197.5 443.4 194.8 445.0C192.1 446.6 189.1 447.9 186.0 448.7C182.9 449.4 178.9 450.1 176.0 449.5C173.1 448.9 170.8 446.6 168.6 445.0C166.4 443.4 164.7 441.2 162.8 440.0C160.9 438.8 158.9 438.4 157.0 437.8C155.1 437.2 153.1 437.6 151.2 436.4C149.3 435.2 147.3 433.2 145.4 430.5C143.5 427.8 141.0 423.8 139.5 420.4C138.0 417.0 137.2 412.9 136.6 410.2C136.0 407.5 135.8 406.9 136.0 404.0Z" fill="#a4effd"/>
<path d="M147.0 398.0C147.5 394.8 148.7 390.8 151.0 388.0C153.3 385.2 156.7 382.5 161.0 381.0C165.3 379.5 173.0 378.8 177.0 379.0C181.0 379.2 182.8 381.2 185.0 382.5C187.2 383.8 188.4 385.0 190.0 386.5C191.6 388.0 193.0 389.6 194.4 391.5C195.8 393.4 197.6 395.8 198.7 398.0C199.8 400.2 200.3 402.3 200.9 404.5C201.5 406.7 202.0 408.4 202.0 411.0C202.0 413.6 201.8 416.8 201.0 420.0C200.2 423.2 199.7 427.2 197.0 430.0C194.3 432.8 188.7 436.0 185.0 437.0C181.3 438.0 177.5 437.2 175.0 436.0C172.5 434.8 171.2 432.3 170.0 430.0C168.8 427.7 169.2 424.0 168.0 422.0C166.8 420.0 165.2 419.3 163.0 418.0C160.8 416.7 157.5 415.8 155.0 414.0C152.5 412.2 149.3 409.7 148.0 407.0C146.7 404.3 146.5 401.2 147.0 398.0Z" fill="#4dc9f8"/>
<path d="M154.0 396.0C154.3 393.2 156.5 390.7 159.0 389.0C161.5 387.3 165.7 386.0 169.0 386.0C172.3 386.0 176.5 387.3 179.0 389.0C181.5 390.7 183.0 393.8 184.0 396.0C185.0 398.2 184.0 400.5 185.0 402.0C186.0 403.5 188.7 403.3 190.0 405.0C191.3 406.7 192.8 409.5 193.0 412.0C193.2 414.5 192.3 417.8 191.0 420.0C189.7 422.2 187.2 424.2 185.0 425.0C182.8 425.8 179.5 425.8 178.0 425.0C176.5 424.2 176.0 422.2 176.0 420.0C176.0 417.8 178.2 413.8 178.0 412.0C177.8 410.2 177.2 409.3 175.0 409.0C172.8 408.7 168.0 410.5 165.0 410.0C162.0 409.5 158.8 408.3 157.0 406.0C155.2 403.7 153.7 398.8 154.0 396.0Z" fill="#18a0ee"/>
<ellipse cx="166.0" cy="397.0" rx="2.0" ry="1.6" fill="#0d6ec6"/>
</g>
<g fill="none" stroke-linejoin="round">
<path d="M185.6 267.0L195.6 269.7L188.8 273.8L181.1 278.8L182.4 278.4L190.6 276.5L191.5 283.9L188.8 284.8L187.4 281.5L182.4 284.8L179.7 286.6L181.5 289.4L184.7 288.5L186.5 291.2L183.8 293.0L185.6 296.2L182.4 297.1L177.9 296.2L173.8 294.8L177.9 297.1L182.0 298.0L183.3 302.1L184.7 306.6L180.6 308.5L177.0 309.8L174.7 305.7L171.9 306.6L170.0 310.3L167.9 313.6L161.5 312.4L164.7 316.2L163.4 320.7L159.6 321.4L160.9 325.2L160.5 329.8L156.7 336.2L152.9 335.6L150.3 340.0L145.1 341.3L147.1 345.7L142.6 346.4L140.0 342.6L136.2 343.2L135.6 347.7L139.4 349.6L142.6 352.8L138.8 356.0L134.9 359.2L131.1 361.8L124.8 359.2L129.9 363.0L138.1 361.8L136.3 366.8L134.5 369.6L135.4 373.2L137.2 376.4L134.0 374.1L131.3 372.8L127.7 372.8L125.4 375.0L129.5 377.8L128.6 380.5L124.9 379.1L120.9 379.6L119.9 382.3L122.2 386.0L118.5 385.6L116.2 388.3L113.0 388.8L115.3 392.4L112.1 396.5L110.3 395.1L107.6 394.2L104.8 396.5L102.6 393.8L99.4 396.0L97.6 399.2L93.9 398.8L98.0 400.1L100.3 402.4L98.9 405.1L95.8 406.9L92.9 409.7L90.2 411.0L88.4 413.8L87.5 411.9L84.7 412.4L82.9 414.7L79.7 416.0L77.0 418.8L74.7 419.2L72.5 417.9L70.7 420.7L69.7 423.9L67.9 426.1L63.7 423.9L68.8 427.0L65.6 428.0L63.9 428.9L63.5 433.0L60.3 434.8L57.1 434.3L53.9 436.6L49.4 437.5L46.2 438.9L43.0 436.1L40.2 435.7L38.8 436.6L40.7 438.4L39.7 441.1L37.0 441.1L35.6 438.4L33.4 436.6L30.6 437.5L27.3 438.9" stroke="#0a0a0a" stroke-width="1.5"/>
<path d="M182.2 378.9L187.7 381.7L193.2 385.7L189.3 390.4L188.5 395.9L186.1 403.8L183.0 413.2L179.1 424.3L175.1 435.3L170.3 444.7L167.2 452.5L164.8 458.6L162.9 458.6L161.7 452.5L160.1 448.6L154.6 444.7L150.7 438.4L147.6 430.6L147.6 421.2L149.9 414.8L154.6 406.9L158.6 399.1L162.5 392.0L167.2 386.5L171.9 383.3L178.3 381.7Z" stroke="#1c1c1c" stroke-width="1.3"/>
<path d="M191.1 387.9L189.5 396.2L187.0 404.4L183.9 413.8L180.1 424.7L176.2 435.7L171.5 445.3L168.3 452.9L165.5 458.1" stroke="#333" stroke-width="0.6" opacity="0.8"/>
</g>
</g>
<rect x="27.3" y="266.4" width="237.6" height="238.0" fill="none" stroke="#222" stroke-width="0.8"/>
<path d="M27.3 266.4v-2.8M27.3 504.4v3.6M27.3 266.4h-3.6M264.9 266.4h2.8M51.1 266.4v-2.8M51.1 504.4v3.6M27.3 290.2h-3.6M264.9 290.2h2.8M74.8 266.4v-2.8M74.8 504.4v3.6M27.3 314.0h-3.6M264.9 314.0h2.8M98.6 266.4v-2.8M98.6 504.4v3.6M27.3 337.8h-3.6M264.9 337.8h2.8M122.3 266.4v-2.8M122.3 504.4v3.6M27.3 361.6h-3.6M264.9 361.6h2.8M146.1 266.4v-2.8M146.1 504.4v3.6M27.3 385.4h-3.6M264.9 385.4h2.8M169.9 266.4v-2.8M169.9 504.4v3.6M27.3 409.2h-3.6M264.9 409.2h2.8M193.6 266.4v-2.8M193.6 504.4v3.6M27.3 433.0h-3.6M264.9 433.0h2.8M217.4 266.4v-2.8M217.4 504.4v3.6M27.3 456.8h-3.6M264.9 456.8h2.8M241.1 266.4v-2.8M241.1 504.4v3.6M27.3 480.6h-3.6M264.9 480.6h2.8M264.9 266.4v-2.8M264.9 504.4v3.6M27.3 504.4h-3.6M264.9 504.4h2.8" stroke="#222" stroke-width="0.8" fill="none"/>
<g font-family="'Liberation Sans', Arial, sans-serif" font-size="7.5" fill="#151515" stroke="#151515" stroke-width="0.2">
<text x="20.0" y="269.3" text-anchor="end">30N</text>
<text x="27.3" y="517.5" text-anchor="middle">115E</text>
<text x="20.0" y="293.1" text-anchor="end">29N</text>
<text x="51.1" y="517.5" text-anchor="middle">116E</text>
<text x="20.0" y="316.9" text-anchor="end">28N</text>
<text x="74.8" y="517.5" text-anchor="middle">117E</text>
<text x="20.0" y="340.7" text-anchor="end">27N</text>
<text x="98.6" y="517.5" text-anchor="middle">118E</text>
<text x="20.0" y="364.5" text-anchor="end">26N</text>
<text x="122.3" y="517.5" text-anchor="middle">119E</text>
<text x="20.0" y="388.3" text-anchor="end">25N</text>
<text x="146.1" y="517.5" text-anchor="middle">120E</text>
<text x="20.0" y="412.1" text-anchor="end">24N</text>
<text x="169.9" y="517.5" text-anchor="middle">121E</text>
<text x="20.0" y="435.9" text-anchor="end">23N</text>
<text x="193.6" y="517.5" text-anchor="middle">122E</text>
<text x="20.0" y="459.7" text-anchor="end">22N</text>
<text x="217.4" y="517.5" text-anchor="middle">123E</text>
<text x="20.0" y="483.5" text-anchor="end">21N</text>
<text x="241.1" y="517.5" text-anchor="middle">124E</text>
<text x="20.0" y="507.3" text-anchor="end">20N</text>
<text x="264.9" y="517.5" text-anchor="middle">125E</text>
</g>
<text x="35.9" y="291.8" font-family="'Liberation Sans', Arial, sans-serif" font-weight="bold" font-size="20.5" fill="#111">(c)</text>
<g clip-path="url(#cpd)">
<g filter="url(#bl)">
<rect x="295.5" y="263.4" width="243.9" height="244.0" fill="#fe500c"/>
<ellipse cx="408.4" cy="266.4" rx="8.2" ry="4.5" fill="#f21309"/>
<path d="M292.5 359.6C293.5 359.6 296.6 360.0 298.5 359.6C300.4 359.2 301.5 358.9 303.8 357.5C306.1 356.1 309.6 352.8 312.5 351.0C315.4 349.2 318.4 347.7 321.3 346.5C324.2 345.3 326.9 344.4 330.0 343.6C333.1 342.8 337.0 341.9 340.2 341.5C343.4 341.1 346.3 341.4 349.0 341.5C351.7 341.6 354.3 342.3 356.2 342.2C358.1 342.1 359.7 342.1 360.5 340.7C361.3 339.2 360.9 335.7 360.8 333.5C360.7 331.3 360.7 329.5 359.8 327.6C358.9 325.7 355.5 322.3 355.5 322.3C355.5 322.3 359.7 325.8 362.0 326.2C364.3 326.6 366.6 325.4 369.3 324.7C372.0 324.0 374.7 322.8 378.0 321.8C381.3 320.9 385.8 319.1 389.0 319.0C392.2 318.9 394.3 320.2 397.0 321.0C399.7 321.8 402.3 324.0 405.0 324.0C407.7 324.0 410.0 322.0 413.0 321.0C416.0 320.0 420.0 319.2 423.0 318.0C426.0 316.8 428.3 315.3 431.0 314.0C433.7 312.7 436.0 311.3 439.0 310.0C442.0 308.7 445.7 307.1 449.0 306.0C452.3 304.9 455.3 303.9 459.0 303.4C462.7 302.9 467.0 303.0 471.0 303.0C475.0 303.0 479.3 303.2 483.0 303.5C486.7 303.8 488.8 304.1 493.0 305.0C497.2 305.9 503.5 307.7 508.0 309.0C512.5 310.3 516.3 311.7 520.0 313.0C523.7 314.3 527.3 315.8 530.0 317.0C532.7 318.2 534.3 319.5 536.4 320.0C538.5 320.5 541.4 320.0 542.4 320.0L542.4 510.4 L292.5 510.4 Z" fill="#ffa40c"/>
<path d="M308.0 440.0C307.7 437.5 311.2 435.3 313.0 433.0C314.8 430.7 317.0 428.5 319.0 426.0C321.0 423.5 323.0 420.7 325.0 418.0C327.0 415.3 329.3 413.0 331.0 410.0C332.7 407.0 333.8 403.0 335.0 400.0C336.2 397.0 336.7 393.8 338.0 392.0C339.3 390.2 340.8 390.0 343.0 389.0C345.2 388.0 348.0 387.3 351.0 386.0C354.0 384.7 357.7 382.5 361.0 381.0C364.3 379.5 368.0 378.5 371.0 377.0C374.0 375.5 375.5 374.8 379.0 372.0C382.5 369.2 387.7 363.7 392.0 360.0C396.3 356.3 401.2 352.5 405.0 350.0C408.8 347.5 411.7 346.3 415.0 345.0C418.3 343.7 421.7 342.7 425.0 342.0C428.3 341.3 431.3 341.2 435.0 341.0C438.7 340.8 443.0 340.8 447.0 341.0C451.0 341.2 455.2 341.6 459.0 342.0C462.8 342.4 466.7 342.7 470.0 343.3C473.3 343.9 475.8 344.6 478.7 345.6C481.6 346.6 484.6 347.9 487.5 349.3C490.4 350.8 493.3 352.4 496.2 354.3C499.1 356.2 502.1 358.2 505.0 360.5C507.9 362.8 510.9 365.4 513.6 367.8C516.3 370.2 518.6 372.3 521.0 375.0C523.4 377.7 526.3 381.1 528.2 383.8C530.1 386.5 531.1 388.6 532.5 391.0C533.9 393.4 534.6 397.2 536.4 398.4C538.1 399.6 541.9 384.8 543.0 398.4C544.1 412.0 544.1 466.4 543.0 480.0C541.9 493.6 538.6 478.3 536.4 480.0C534.2 481.7 532.1 487.0 530.0 490.0C527.9 493.0 525.9 495.6 524.0 498.0C522.1 500.4 519.6 502.9 518.6 504.7C517.6 506.5 548.3 508.3 518.0 509.0C487.7 509.7 367.2 509.8 337.0 509.0C306.8 508.2 337.8 506.0 337.0 504.0C336.2 502.0 333.7 499.3 332.0 497.0C330.3 494.7 328.7 492.5 327.0 490.0C325.3 487.5 323.3 485.0 322.0 482.0C320.7 479.0 319.3 475.0 319.0 472.0C318.7 469.0 320.0 466.7 320.0 464.0C320.0 461.3 319.8 458.7 319.0 456.0C318.2 453.3 316.8 450.7 315.0 448.0C313.2 445.3 308.3 442.5 308.0 440.0Z" fill="#ffe173"/>
<path d="M409.0 366.0C411.7 364.0 414.0 363.0 417.0 362.0C420.0 361.0 423.3 360.3 427.0 360.0C430.7 359.7 435.0 359.8 439.0 360.0C443.0 360.2 447.3 360.9 451.0 361.5C454.7 362.1 457.8 362.7 461.0 363.5C464.2 364.3 467.3 365.3 470.0 366.4C472.7 367.5 474.9 368.6 477.3 370.0C479.7 371.4 482.1 372.9 484.5 375.0C486.9 377.1 489.6 379.7 491.8 382.4C494.0 385.1 496.0 388.1 497.6 391.0C499.2 393.9 500.5 396.4 501.3 399.8C502.1 403.2 502.3 407.7 502.3 411.6C502.3 415.5 502.2 419.4 501.5 423.3C500.8 427.2 499.4 431.4 497.8 435.0C496.2 438.6 494.2 441.9 492.0 445.0C489.8 448.1 487.4 451.1 484.7 453.8C482.0 456.5 478.9 458.9 476.0 461.0C473.1 463.1 470.0 464.9 467.3 466.2C464.6 467.5 462.8 468.4 460.0 469.0C457.2 469.6 454.2 469.7 450.7 469.8C447.2 469.9 442.9 470.0 439.0 469.8C435.1 469.6 431.1 469.2 427.5 468.4C423.9 467.5 420.2 466.2 417.3 464.7C414.4 463.2 412.4 461.2 410.0 459.6C407.6 458.0 405.5 456.6 403.0 455.0C400.5 453.4 398.0 452.5 395.0 450.0C392.0 447.5 387.7 443.3 385.0 440.0C382.3 436.7 380.7 433.7 379.0 430.0C377.3 426.3 375.8 421.7 375.0 418.0C374.2 414.3 374.0 411.3 374.0 408.0C374.0 404.7 373.5 400.8 375.0 398.0C376.5 395.2 380.0 393.5 383.0 391.0C386.0 388.5 390.0 385.8 393.0 383.0C396.0 380.2 398.3 376.8 401.0 374.0C403.7 371.2 406.3 368.0 409.0 366.0Z" fill="#e9faf1"/>
<path d="M400.8 404.3C400.9 401.1 401.1 397.4 402.3 394.0C403.5 390.6 405.3 386.9 408.0 384.0C410.7 381.1 414.4 378.6 418.3 376.6C422.2 374.7 426.8 373.0 431.4 372.3C436.0 371.6 441.6 371.8 446.0 372.3C450.4 372.8 454.8 374.5 458.0 375.5C461.2 376.5 463.0 377.2 465.0 378.5C467.0 379.8 468.2 381.3 470.0 383.0C471.8 384.7 474.0 386.4 475.8 388.5C477.6 390.6 479.7 393.2 481.0 395.5C482.3 397.8 483.1 399.8 483.5 402.0C483.9 404.2 483.9 405.9 483.5 408.7C483.1 411.5 482.4 415.9 481.3 419.0C480.2 422.1 478.7 424.9 477.0 427.6C475.3 430.3 473.4 432.8 471.0 435.0C468.6 437.2 465.3 439.3 462.4 440.7C459.5 442.1 456.5 443.0 453.6 443.6C450.7 444.2 447.4 444.8 445.0 444.4C442.6 444.0 440.7 442.5 439.0 441.5C437.3 440.5 436.4 438.9 434.7 438.5C433.0 438.1 431.2 439.3 429.0 439.3C426.8 439.3 423.8 439.2 421.6 438.5C419.4 437.8 417.7 436.6 415.8 435.0C413.9 433.4 411.8 431.3 410.0 429.0C408.2 426.7 406.3 423.7 405.0 421.0C403.7 418.3 402.7 415.8 402.0 413.0C401.3 410.2 400.8 407.5 400.8 404.3Z" fill="#a4effd"/>
<path d="M411.0 402.0C411.3 399.2 412.0 395.0 414.0 392.0C416.0 389.0 419.2 386.0 423.0 384.0C426.8 382.0 432.3 380.5 437.0 380.0C441.7 379.5 447.0 379.7 451.0 381.0C455.0 382.3 458.3 384.8 461.0 388.0C463.7 391.2 465.8 396.0 467.0 400.0C468.2 404.0 468.3 408.0 468.0 412.0C467.7 416.0 466.8 420.7 465.0 424.0C463.2 427.3 460.0 430.2 457.0 432.0C454.0 433.8 449.5 435.3 447.0 435.0C444.5 434.7 443.0 432.2 442.0 430.0C441.0 427.8 442.2 423.7 441.0 422.0C439.8 420.3 437.7 420.2 435.0 420.0C432.3 419.8 428.0 421.7 425.0 421.0C422.0 420.3 419.2 418.0 417.0 416.0C414.8 414.0 413.0 411.3 412.0 409.0C411.0 406.7 410.7 404.8 411.0 402.0Z" fill="#4dc9f8"/>
<path d="M418.0 399.0C418.2 396.7 419.3 394.7 421.0 393.0C422.7 391.3 425.3 390.0 428.0 389.0C430.7 388.0 434.2 386.8 437.0 387.0C439.8 387.2 443.3 388.5 445.0 390.0C446.7 391.5 447.3 393.7 447.0 396.0C446.7 398.3 444.3 401.7 443.0 404.0C441.7 406.3 440.8 408.3 439.0 410.0C437.2 411.7 434.3 413.7 432.0 414.0C429.7 414.3 427.0 413.2 425.0 412.0C423.0 410.8 421.2 409.2 420.0 407.0C418.8 404.8 417.8 401.3 418.0 399.0Z" fill="#18a0ee"/>
<ellipse cx="430.0" cy="404.0" rx="2.0" ry="3.0" fill="#0d6ec6"/>
</g>
<g fill="none" stroke-linejoin="round">
<path d="M457.0 267.0L467.1 269.7L460.2 273.8L452.5 278.8L453.8 278.4L462.0 276.5L462.9 283.9L460.2 284.8L458.8 281.5L453.8 284.8L451.1 286.6L452.9 289.4L456.1 288.5L457.9 291.2L455.2 293.0L457.0 296.2L453.8 297.1L449.3 296.2L445.1 294.8L449.3 297.1L453.4 298.0L454.7 302.1L456.1 306.6L452.0 308.5L448.4 309.8L446.0 305.7L443.3 306.6L441.4 310.3L439.3 313.6L432.9 312.4L436.1 316.2L434.8 320.7L431.0 321.4L432.3 325.2L431.9 329.8L428.1 336.2L424.2 335.6L421.6 340.0L416.5 341.3L418.4 345.7L414.0 346.4L411.4 342.6L407.6 343.2L406.9 347.7L410.8 349.6L414.0 352.8L410.2 356.0L406.2 359.2L402.4 361.8L396.1 359.2L401.2 363.0L409.5 361.8L407.7 366.8L405.8 369.6L406.7 373.2L408.6 376.4L405.3 374.1L402.6 372.8L399.0 372.8L396.7 375.0L400.8 377.8L399.9 380.5L396.2 379.1L392.2 379.6L391.2 382.3L393.5 386.0L389.9 385.6L387.5 388.3L384.3 388.8L386.6 392.4L383.4 396.5L381.6 395.1L378.9 394.2L376.1 396.5L373.9 393.8L370.7 396.0L368.9 399.2L365.1 398.8L369.3 400.1L371.6 402.4L370.2 405.1L367.0 406.9L364.2 409.7L361.5 411.0L359.7 413.8L358.8 411.9L356.0 412.4L354.2 414.7L351.0 416.0L348.3 418.8L345.9 419.2L343.7 417.9L341.9 420.7L340.9 423.9L339.1 426.1L335.0 423.9L340.0 427.0L336.9 428.0L335.2 428.9L334.8 433.0L331.6 434.8L328.4 434.3L325.1 436.6L320.6 437.5L317.4 438.9L314.2 436.1L311.5 435.7L310.1 436.6L311.9 438.4L311.0 441.1L308.2 441.1L306.8 438.4L304.6 436.6L301.8 437.5L298.5 438.9" stroke="#0a0a0a" stroke-width="1.5"/>
<path d="M453.6 378.9L459.1 381.7L464.6 385.7L460.7 390.4L459.9 395.9L457.5 403.8L454.4 413.2L450.5 424.3L446.4 435.3L441.7 444.7L438.6 452.5L436.2 458.6L434.3 458.6L433.1 452.5L431.5 448.6L425.9 444.7L422.0 438.4L418.9 430.6L418.9 421.2L421.2 414.8L425.9 406.9L430.0 399.1L433.9 392.0L438.6 386.5L443.3 383.3L449.7 381.7Z" stroke="#1c1c1c" stroke-width="1.3"/>
<path d="M462.5 387.9L460.9 396.2L458.4 404.4L455.3 413.8L451.5 424.7L447.6 435.7L442.9 445.3L439.7 452.9L436.9 458.1" stroke="#333" stroke-width="0.6" opacity="0.8"/>
</g>
</g>
<rect x="298.5" y="266.4" width="237.9" height="238.0" fill="none" stroke="#222" stroke-width="0.8"/>
<path d="M298.5 266.4v-2.8M298.5 504.4v3.6M298.5 266.4h-3.6M536.4 266.4h2.8M322.3 266.4v-2.8M322.3 504.4v3.6M298.5 290.2h-3.6M536.4 290.2h2.8M346.1 266.4v-2.8M346.1 504.4v3.6M298.5 314.0h-3.6M536.4 314.0h2.8M369.9 266.4v-2.8M369.9 504.4v3.6M298.5 337.8h-3.6M536.4 337.8h2.8M393.7 266.4v-2.8M393.7 504.4v3.6M298.5 361.6h-3.6M536.4 361.6h2.8M417.4 266.4v-2.8M417.4 504.4v3.6M298.5 385.4h-3.6M536.4 385.4h2.8M441.2 266.4v-2.8M441.2 504.4v3.6M298.5 409.2h-3.6M536.4 409.2h2.8M465.0 266.4v-2.8M465.0 504.4v3.6M298.5 433.0h-3.6M536.4 433.0h2.8M488.8 266.4v-2.8M488.8 504.4v3.6M298.5 456.8h-3.6M536.4 456.8h2.8M512.6 266.4v-2.8M512.6 504.4v3.6M298.5 480.6h-3.6M536.4 480.6h2.8M536.4 266.4v-2.8M536.4 504.4v3.6M298.5 504.4h-3.6M536.4 504.4h2.8" stroke="#222" stroke-width="0.8" fill="none"/>
<g font-family="'Liberation Sans', Arial, sans-serif" font-size="7.5" fill="#151515" stroke="#151515" stroke-width="0.2">
<text x="291.2" y="269.3" text-anchor="end">30N</text>
<text x="298.5" y="517.5" text-anchor="middle">115E</text>
<text x="291.2" y="293.1" text-anchor="end">29N</text>
<text x="322.3" y="517.5" text-anchor="middle">116E</text>
<text x="291.2" y="316.9" text-anchor="end">28N</text>
<text x="346.1" y="517.5" text-anchor="middle">117E</text>
<text x="291.2" y="340.7" text-anchor="end">27N</text>
<text x="369.9" y="517.5" text-anchor="middle">118E</text>
<text x="291.2" y="364.5" text-anchor="end">26N</text>
<text x="393.7" y="517.5" text-anchor="middle">119E</text>
<text x="291.2" y="388.3" text-anchor="end">25N</text>
<text x="417.4" y="517.5" text-anchor="middle">120E</text>
<text x="291.2" y="412.1" text-anchor="end">24N</text>
<text x="441.2" y="517.5" text-anchor="middle">121E</text>
<text x="291.2" y="435.9" text-anchor="end">23N</text>
<text x="465.0" y="517.5" text-anchor="middle">122E</text>
<text x="291.2" y="459.7" text-anchor="end">22N</text>
<text x="488.8" y="517.5" text-anchor="middle">123E</text>
<text x="291.2" y="483.5" text-anchor="end">21N</text>
<text x="512.6" y="517.5" text-anchor="middle">124E</text>
<text x="291.2" y="507.3" text-anchor="end">20N</text>
<text x="536.4" y="517.5" text-anchor="middle">125E</text>
</g>
<text x="307.1" y="291.8" font-family="'Liberation Sans', Arial, sans-serif" font-weight="bold" font-size="20.5" fill="#111">(d)</text>
<g stroke="#1a1a1a" stroke-width="1" stroke-linejoin="miter">
<path d="M133.5 526.8L96.5 532.2L133.5 537.7Z" fill="#0b3785"/>
<rect x="133.50" y="526.8" width="36.15" height="10.9" fill="#0d6ec6"/>
<rect x="169.65" y="526.8" width="36.15" height="10.9" fill="#18a0ee"/>
<rect x="205.80" y="526.8" width="36.15" height="10.9" fill="#4dc9f8"/>
<rect x="241.95" y="526.8" width="36.15" height="10.9" fill="#a4effd"/>
<rect x="278.10" y="526.8" width="36.15" height="10.9" fill="#e9faf1"/>
<rect x="314.25" y="526.8" width="36.15" height="10.9" fill="#ffe173"/>
<rect x="350.40" y="526.8" width="36.15" height="10.9" fill="#ffa40c"/>
<rect x="386.55" y="526.8" width="36.15" height="10.9" fill="#fe500c"/>
<path d="M422.7 526.8L459.0 532.2L422.7 537.7Z" fill="#f21309"/>
</g>
<g font-family="'Liberation Sans', Arial, sans-serif" font-size="11.2" fill="#222" text-anchor="middle">
<text x="133.5" y="551.2">975</text>
<text x="169.7" y="551.2">980</text>
<text x="205.8" y="551.2">985</text>
<text x="241.9" y="551.2">990</text>
<text x="278.1" y="551.2">995</text>
<text x="314.2" y="551.2">1000</text>
<text x="350.4" y="551.2">1005</text>
<text x="386.5" y="551.2">1010</text>
<text x="422.7" y="551.2">1015</text>
</g>
<text x="277.5" y="564.6" text-anchor="middle" font-family="'Liberation Sans', Arial, sans-serif" font-size="11.4" fill="#222">Sea level pressure (Pa)</text>
</svg>
</body></html>
